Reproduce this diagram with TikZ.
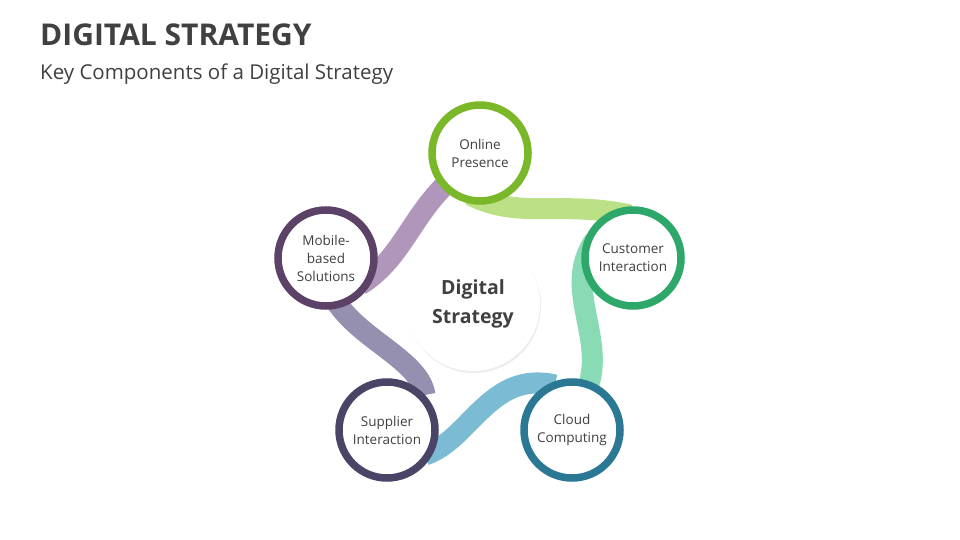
\documentclass[tikz,border=0pt]{standalone}
\usepackage{fontspec}
\setmainfont{Open Sans}
\usetikzlibrary{shadows}
\definecolor{tx}{HTML}{404040}
\definecolor{cOn}{HTML}{7AB829}
\definecolor{cCu}{HTML}{2DA86A}
\definecolor{cCl}{HTML}{2A7894}
\definecolor{cSu}{HTML}{4A4566}
\definecolor{cMo}{HTML}{5C4266}
\definecolor{rA}{HTML}{A98BB5}
\definecolor{rB}{HTML}{B5DD78}
\definecolor{rC}{HTML}{7DD8AE}
\definecolor{rD}{HTML}{6DB5D0}
\definecolor{rE}{HTML}{8A84A8}
\tikzset{
 comp/.style={circle,draw=#1,line width=7.5pt,fill=white,minimum size=96pt,inner sep=0pt,align=center,font=\fontsize{13.5}{18}\selectfont,text=tx,drop shadow={opacity=0.2,shadow xshift=1pt,shadow yshift=-2pt}},
 rib/.style={line width=21pt,draw=#1,opacity=0.9}
}
\begin{document}
\begin{tikzpicture}[x=1pt,y=-1pt]
\useasboundingbox (0,0) rectangle (960,540);
\fill[white] (0,0) rectangle (960,540);
\node[anchor=west,inner sep=0pt,text=tx,font=\fontsize{30}{34}\selectfont\bfseries] (title) at (40,35) {DIGITAL STRATEGY};
\node[anchor=west,inner sep=0pt,text=tx,font=\fontsize{20.5}{24}\selectfont] (sub) at (40,74) {Key Components of a Digital Strategy};
\coordinate (pOn) at (480,153);
\coordinate (pCu) at (633,258);
\coordinate (pCl) at (572,430);
\coordinate (pSu) at (387,430);
\coordinate (pMo) at (326,258);
\draw[rib=rA] (445,185) .. controls (410,220) and (400,260) .. (360,285);
\draw[rib=rB] (470,195) .. controls (520,220) and (560,200) .. (630,215);
\draw[rib=rC] (595,240) .. controls (560,290) and (610,340) .. (585,395);
\draw[rib=rD] (555,385) .. controls (490,370) and (470,440) .. (425,455);
\draw[rib=rE] (335,300) .. controls (360,340) and (420,360) .. (425,395);
\node[circle,fill=white,minimum size=134pt,drop shadow={opacity=0.15,shadow xshift=1pt,shadow yshift=-2pt},align=center,text=tx,font=\fontsize{19.5}{29}\selectfont\bfseries] (c) at (473,304) {Digital\\Strategy};
\node[comp=cOn] (on) at (pOn) {Online\\Presence};
\node[comp=cCu] (cu) at (pCu) {Customer\\Interaction};
\node[comp=cCl] (cl) at (pCl) {Cloud\\Computing};
\node[comp=cSu] (su) at (pSu) {Supplier\\Interaction};
\node[comp=cMo] (mo) at (pMo) {Mobile-\\based\\Solutions};
\end{tikzpicture}
\end{document}
